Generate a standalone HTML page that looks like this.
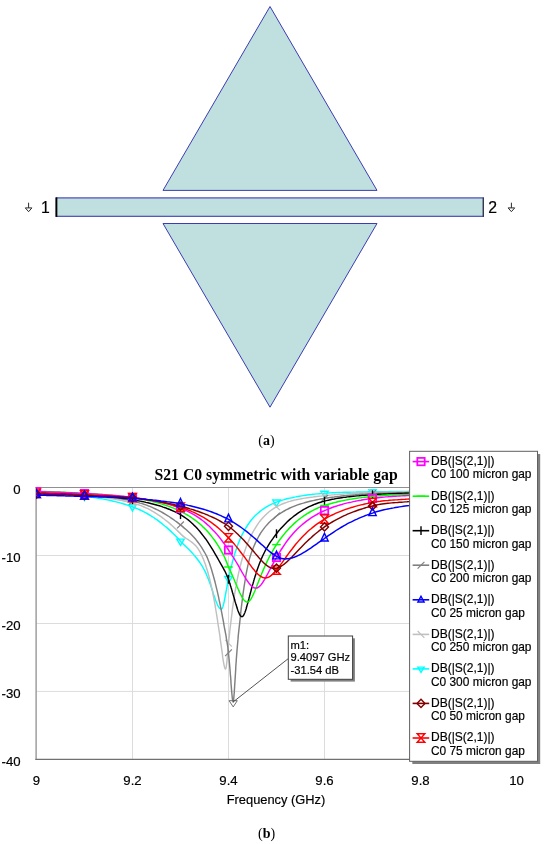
<!DOCTYPE html>
<html><head><meta charset="utf-8"><title>Figure</title>
<style>
html,body{margin:0;padding:0;background:#fff;}
body{width:550px;height:844px;position:relative;overflow:hidden;}
svg text{fill:#000;}
svg .a{font-family:"Liberation Sans",sans-serif;stroke:#000;stroke-width:0.18px;}
svg .s{font-family:"Liberation Serif",serif;}
</style></head><body>
<svg width="550" height="844" viewBox="0 0 550 844" style="position:absolute;left:0;top:0">
<polygon points="270,6.5 377,190.4 163,190.4" fill="#bfe0de" stroke="#3c3cb4" stroke-width="1"/>
<polygon points="270,407.2 377,223.5 163,223.5" fill="#bfe0de" stroke="#3c3cb4" stroke-width="1"/>
<rect x="56.4" y="197.9" width="426.9" height="18.4" fill="#bfe0de" stroke="#3c3cb4" stroke-width="1.1"/>
<path d="M56.4 197.4V216.9" stroke="#000" stroke-width="1.9"/>
<path d="M483.3 197.4V216.9" stroke="#333" stroke-width="1.1"/>
<path d="M28.6 202.7V207.9M25.3 207.9H31.9L28.6 211.7Z" stroke="#2a2a2a" stroke-width="1" fill="none" stroke-linejoin="miter"/>
<path d="M511.4 202.7V207.9M508.1 207.9H514.7L511.4 211.7Z" stroke="#2a2a2a" stroke-width="1" fill="none" stroke-linejoin="miter"/>
<text x="41.0" y="212.5" class="a" font-size="15.8">1</text>
<text x="488.3" y="212.5" class="a" font-size="15.8">2</text>
<text x="266.5" y="444.6" text-anchor="middle" class="s" font-size="14">(<tspan font-weight="bold">a</tspan>)</text>
<text x="266.6" y="837.5" text-anchor="middle" class="s" font-size="14">(<tspan font-weight="bold">b</tspan>)</text>
<path d="M132.5 487.5V759.4" stroke="#dcdcdc" stroke-width="1"/>
<path d="M228.5 487.5V759.4" stroke="#dcdcdc" stroke-width="1"/>
<path d="M324.5 487.5V759.4" stroke="#dcdcdc" stroke-width="1"/>
<path d="M420.5 487.5V759.4" stroke="#dcdcdc" stroke-width="1"/>
<path d="M516.5 487.5V759.4" stroke="#dcdcdc" stroke-width="1"/>
<path d="M36.5 555.5H516.5" stroke="#dcdcdc" stroke-width="1"/>
<path d="M36.5 623.5H516.5" stroke="#dcdcdc" stroke-width="1"/>
<path d="M36.5 691.4H516.5" stroke="#dcdcdc" stroke-width="1"/>
<path d="M36.1 486.9V760.0M516.4 486.9V760.0" stroke="#8c8c8c" stroke-width="1.25"/>
<path d="M35.4 487.5H517.1" stroke="#909090" stroke-width="1.1"/>
<path d="M35.4 759.4H517.1" stroke="#707070" stroke-width="1.2"/>
<text x="276.1" y="479.7" text-anchor="middle" class="s" font-weight="bold" font-size="15.72">S21 C0 symmetric with variable gap</text>
<text x="36.5" y="784.8" text-anchor="middle" class="a" font-size="13.2">9</text>
<text x="132.5" y="784.8" text-anchor="middle" class="a" font-size="13.2">9.2</text>
<text x="228.5" y="784.8" text-anchor="middle" class="a" font-size="13.2">9.4</text>
<text x="324.5" y="784.8" text-anchor="middle" class="a" font-size="13.2">9.6</text>
<text x="420.5" y="784.8" text-anchor="middle" class="a" font-size="13.2">9.8</text>
<text x="516.5" y="784.8" text-anchor="middle" class="a" font-size="13.2">10</text>
<text x="20.6" y="493.9" text-anchor="end" class="a" font-size="13.2">0</text>
<text x="20.6" y="561.9" text-anchor="end" class="a" font-size="13.2">-10</text>
<text x="20.6" y="629.9" text-anchor="end" class="a" font-size="13.2">-20</text>
<text x="20.6" y="697.8" text-anchor="end" class="a" font-size="13.2">-30</text>
<text x="20.6" y="765.8" text-anchor="end" class="a" font-size="13.2">-40</text>
<text x="276" y="804.4" text-anchor="middle" class="a" font-size="12.85">Frequency (GHz)</text>
<clipPath id="pc"><rect x="36.0" y="487.0" width="481.0" height="272.9"/></clipPath>
<g clip-path="url(#pc)">
<polyline points="36.5,493.3 38.4,493.3 40.3,493.4 42.3,493.5 44.2,493.5 46.1,493.6 48.0,493.7 49.9,493.8 51.9,493.9 53.8,494.0 55.7,494.1 57.6,494.2 59.5,494.3 61.5,494.4 63.4,494.5 65.3,494.6 67.2,494.8 69.1,494.9 71.1,495.1 73.0,495.2 74.9,495.4 76.8,495.6 78.7,495.7 80.7,495.9 82.6,496.1 84.5,496.3 86.4,496.6 88.3,496.8 90.3,497.0 92.2,497.3 94.1,497.6 96.0,497.8 97.9,498.2 99.9,498.5 101.8,498.8 103.7,499.1 105.6,499.5 107.5,499.9 109.5,500.3 111.4,500.7 113.3,501.2 115.2,501.6 117.1,502.1 119.1,502.6 121.0,503.1 122.9,503.7 124.8,504.3 126.7,504.9 128.7,505.5 130.6,506.1 132.5,506.8 134.4,507.5 136.3,508.3 138.3,509.1 140.2,510.0 142.1,510.9 144.0,511.9 145.9,512.9 147.9,514.0 149.8,515.1 151.7,516.3 153.6,517.5 155.5,518.9 157.5,520.2 159.4,521.6 161.3,523.1 163.2,524.7 165.1,526.3 167.1,527.9 169.0,529.6 170.9,531.4 172.8,533.2 174.7,535.1 176.7,537.1 178.6,539.1 180.5,541.2 182.4,543.2 184.3,545.1 186.3,547.0 188.2,548.8 190.1,550.7 192.0,552.7 193.9,554.9 195.9,557.3 197.8,559.7 199.7,562.3 201.6,565.1 203.5,568.5 205.5,572.3 206.9,575.6 207.1,576.0 207.3,576.5 207.4,576.7 207.5,577.0 207.7,577.4 207.9,577.9 208.1,578.4 208.2,578.9 208.4,579.3 208.6,579.8 208.8,580.3 209.0,580.8 209.2,581.3 209.3,581.6 209.4,581.8 209.6,582.4 209.8,582.9 210.0,583.4 210.2,583.9 210.4,584.4 210.5,585.0 210.7,585.5 210.9,586.1 211.1,586.7 211.2,587.0 211.3,587.3 211.5,587.9 211.7,588.4 211.9,589.0 212.1,589.6 212.3,590.2 212.5,590.8 212.7,591.4 212.9,592.0 213.0,592.5 213.1,592.8 213.2,593.1 213.4,593.7 213.6,594.3 213.8,594.9 214.0,595.4 214.2,596.0 214.4,596.6 214.6,597.1 214.8,597.7 215.0,598.3 215.1,598.5 215.2,598.8 215.3,599.3 215.5,599.9 215.7,600.4 215.9,600.9 216.1,601.4 216.3,601.9 216.5,602.4 216.7,602.9 216.9,603.3 217.0,603.6 217.1,603.8 217.3,604.2 217.5,604.7 217.7,605.1 217.8,605.5 218.0,605.8 218.2,606.2 218.4,606.5 218.6,606.9 218.8,607.2 218.9,607.3 219.0,607.5 219.2,607.7 219.4,608.0 219.6,608.2 219.8,608.4 220.0,608.6 220.1,608.7 220.3,608.9 220.5,609.0 220.7,609.1 220.8,609.1 220.9,609.1 221.1,609.2 221.3,609.2 221.5,609.1 221.7,609.0 221.9,608.8 222.1,608.6 222.3,608.2 222.5,607.8 222.6,607.3 222.7,607.0 222.8,606.8 223.0,606.2 223.2,605.5 223.4,604.8 223.6,604.0 223.8,603.2 224.0,602.3 224.2,601.5 224.4,600.5 224.6,599.6 224.7,599.1 224.8,598.6 224.9,597.7 225.1,596.6 225.3,595.6 225.5,594.6 225.7,593.6 225.9,592.5 226.1,591.5 226.3,590.4 226.5,589.4 226.6,588.8 226.7,588.3 226.9,587.3 227.1,586.2 227.3,585.2 227.4,584.1 227.6,583.1 227.8,582.1 228.0,581.1 228.2,580.1 228.4,579.1 228.5,578.6 228.6,578.1 228.8,577.2 229.0,576.3 229.2,575.4 229.4,574.5 229.6,573.7 229.7,572.8 229.9,572.0 230.1,571.1 230.3,570.3 230.4,569.9 230.5,569.5 230.7,568.7 230.9,567.9 231.1,567.1 231.3,566.4 231.5,565.6 231.7,564.9 231.9,564.1 232.1,563.4 232.2,562.7 232.3,562.3 232.4,562.0 232.6,561.3 232.8,560.6 233.0,559.9 233.2,559.2 233.4,558.5 233.6,557.9 233.8,557.2 234.0,556.5 234.2,555.9 234.3,555.5 234.4,555.2 234.5,554.6 234.7,553.9 234.9,553.3 235.1,552.7 235.3,552.1 235.5,551.5 236.2,549.5 238.1,544.1 240.0,539.4 241.9,535.2 243.9,531.4 245.8,528.0 247.7,525.0 249.6,522.3 251.5,519.8 253.5,517.6 255.4,515.6 257.3,513.7 259.2,512.1 261.1,510.5 263.1,509.1 265.0,507.9 266.9,506.7 268.8,505.6 270.7,504.6 272.7,503.7 274.6,502.9 276.5,502.1 278.4,501.4 280.3,500.8 282.3,500.1 284.2,499.6 286.1,499.0 288.0,498.5 289.9,498.1 291.9,497.7 293.8,497.2 295.7,496.9 297.6,496.5 299.5,496.2 301.5,495.9 303.4,495.6 305.3,495.3 307.2,495.0 309.1,494.8 311.1,494.6 313.0,494.3 314.9,494.1 316.8,493.9 318.7,493.8 320.7,493.6 322.6,493.4 324.5,493.3 326.4,493.1 328.3,493.0 330.3,492.9 332.2,492.8 334.1,492.7 336.0,492.6 337.9,492.5 339.9,492.5 341.8,492.4 343.7,492.3 345.6,492.3 347.5,492.2 349.5,492.2 351.4,492.1 353.3,492.1 355.2,492.1 357.1,492.0 359.1,492.0 361.0,492.0 362.9,491.9 364.8,491.9 366.7,491.9 368.7,491.8 370.6,491.8 372.5,491.8 374.4,491.7 376.3,491.7 378.3,491.7 380.2,491.7 382.1,491.6 384.0,491.6 385.9,491.6 387.9,491.6 389.8,491.5 391.7,491.5 393.6,491.5 395.5,491.5 397.5,491.4 399.4,491.4 401.3,491.4 403.2,491.4 405.1,491.4 407.1,491.4 409.0,491.3 410.9,491.3 412.8,491.3 414.7,491.3 416.7,491.3 418.6,491.3 420.5,491.2 422.4,491.2 424.3,491.2 426.3,491.2 428.2,491.2 430.1,491.2 432.0,491.1 433.9,491.1 435.9,491.1 437.8,491.1 439.7,491.1 441.6,491.1 443.5,491.1 445.5,491.1 447.4,491.0 449.3,491.0 451.2,491.0 453.1,491.0 455.1,491.0 457.0,491.0 458.9,491.0 460.8,491.0 462.7,490.9 464.7,490.9 466.6,490.9 468.5,490.9 470.4,490.9 472.3,490.9 474.3,490.9 476.2,490.8 478.1,490.8 480.0,490.8 481.9,490.8 483.9,490.8 485.8,490.8 487.7,490.8 489.6,490.8 491.5,490.7 493.5,490.7 495.4,490.7 497.3,490.7 499.2,490.7 501.1,490.7 503.1,490.7 505.0,490.6 506.9,490.6 508.8,490.6 510.7,490.6 512.7,490.6 514.6,490.6 516.5,490.6" fill="none" stroke="#00ffff" stroke-width="1.45" stroke-linejoin="round"/>
<path d="M36.5 497.5L40.2 491.2H32.8Z" stroke="#00ffff" stroke-width="1.4" fill="none"/>
<path d="M84.5 500.5L88.2 494.2H80.8Z" stroke="#00ffff" stroke-width="1.4" fill="none"/>
<path d="M132.5 511.0L136.2 504.7H128.8Z" stroke="#00ffff" stroke-width="1.4" fill="none"/>
<path d="M180.5 545.4L184.2 539.1H176.8Z" stroke="#00ffff" stroke-width="1.4" fill="none"/>
<path d="M228.5 582.8L232.2 576.5H224.8Z" stroke="#00ffff" stroke-width="1.4" fill="none"/>
<path d="M276.5 506.3L280.2 500.0H272.8Z" stroke="#00ffff" stroke-width="1.4" fill="none"/>
<path d="M324.5 497.5L328.2 491.2H320.8Z" stroke="#00ffff" stroke-width="1.4" fill="none"/>
<path d="M372.5 496.0L376.2 489.7H368.8Z" stroke="#00ffff" stroke-width="1.4" fill="none"/>
<path d="M420.5 495.4L424.2 489.1H416.8Z" stroke="#00ffff" stroke-width="1.4" fill="none"/>
<path d="M468.5 495.1L472.2 488.8H464.8Z" stroke="#00ffff" stroke-width="1.4" fill="none"/>
<path d="M516.5 494.8L520.2 488.5H512.8Z" stroke="#00ffff" stroke-width="1.4" fill="none"/>
<polyline points="36.5,492.9 38.4,493.0 40.3,493.0 42.3,493.1 44.2,493.1 46.1,493.2 48.0,493.3 49.9,493.3 51.9,493.4 53.8,493.5 55.7,493.5 57.6,493.6 59.5,493.7 61.5,493.8 63.4,493.9 65.3,494.0 67.2,494.1 69.1,494.2 71.1,494.3 73.0,494.4 74.9,494.5 76.8,494.7 78.7,494.8 80.7,495.0 82.6,495.1 84.5,495.3 86.4,495.5 88.3,495.7 90.3,495.9 92.2,496.1 94.1,496.3 96.0,496.5 97.9,496.8 99.9,497.0 101.8,497.3 103.7,497.5 105.6,497.8 107.5,498.1 109.5,498.4 111.4,498.7 113.3,499.0 115.2,499.3 117.1,499.7 119.1,500.0 121.0,500.4 122.9,500.8 124.8,501.2 126.7,501.6 128.7,502.0 130.6,502.5 132.5,503.0 134.4,503.5 136.3,504.1 138.3,504.7 140.2,505.4 142.1,506.2 144.0,507.0 145.9,507.8 147.9,508.7 149.8,509.7 151.7,510.8 153.6,511.9 155.5,513.0 157.5,514.3 159.4,515.6 161.3,516.9 163.2,518.3 165.1,519.8 167.1,521.3 169.0,522.9 170.9,524.6 172.8,526.3 174.7,528.1 176.7,529.9 178.6,531.8 180.5,533.7 182.4,535.5 184.3,537.1 186.3,538.5 188.2,539.7 190.1,541.0 192.0,542.4 193.9,544.0 195.9,545.9 197.8,548.3 199.7,551.3 201.6,555.0 203.5,559.4 205.5,564.7 207.4,570.7 209.3,577.7 211.1,585.2 211.2,585.7 211.3,586.1 211.5,587.0 211.7,587.8 211.9,588.7 212.1,589.6 212.3,590.5 212.5,591.4 212.7,592.4 212.9,593.3 213.0,594.3 213.1,594.8 213.2,595.2 213.4,596.2 213.6,597.2 213.8,598.2 214.0,599.3 214.2,600.3 214.4,601.3 214.6,602.4 214.8,603.5 215.0,604.6 215.1,605.1 215.2,605.7 215.3,606.8 215.5,608.0 215.7,609.1 215.9,610.3 216.1,611.5 216.3,612.6 216.5,613.9 216.7,615.1 216.9,616.3 217.0,617.0 217.1,617.6 217.3,618.9 217.5,620.2 217.7,621.5 217.8,622.8 218.0,624.0 218.2,625.2 218.4,626.4 218.6,627.6 218.8,628.9 218.9,629.5 219.0,630.1 219.2,631.4 219.4,632.7 219.6,634.0 219.8,635.3 220.0,636.7 220.1,638.0 220.3,639.4 220.5,640.8 220.7,642.2 220.8,642.9 220.9,643.6 221.1,645.0 221.3,646.4 221.5,647.9 221.7,649.3 221.9,650.7 222.1,652.2 222.3,653.6 222.5,655.0 222.6,656.4 222.7,657.0 222.8,657.7 223.0,659.0 223.2,660.3 223.4,661.5 223.6,662.7 223.8,663.8 224.0,664.8 224.2,665.7 224.4,666.6 224.6,667.3 224.7,667.6 224.8,667.9 224.9,668.4 225.1,668.7 225.3,668.9 225.5,669.0 225.7,668.8 225.9,668.3 226.1,667.5 226.3,666.4 226.5,665.0 226.6,664.2 226.7,663.4 226.9,661.6 227.1,659.6 227.3,657.6 227.4,655.4 227.6,653.2 227.8,651.0 228.0,648.8 228.2,646.5 228.4,644.3 228.5,643.2 228.6,642.2 228.8,640.3 229.0,638.5 229.2,636.7 229.4,635.0 229.6,633.3 229.7,631.6 229.9,630.0 230.1,628.4 230.3,626.8 230.4,626.0 230.5,625.1 230.7,623.5 230.9,621.8 231.1,620.1 231.3,618.5 231.5,616.9 231.7,615.3 231.9,613.8 232.1,612.3 232.2,610.8 232.3,610.1 232.4,609.3 232.6,607.9 232.8,606.5 233.0,605.1 233.2,603.8 233.4,602.5 233.6,601.1 233.8,599.9 234.0,598.6 234.2,597.3 234.3,596.7 234.4,596.1 234.5,594.9 234.7,593.7 234.9,592.5 235.1,591.4 235.3,590.3 235.5,589.1 235.7,588.0 235.9,586.9 236.1,585.9 236.2,585.3 236.3,584.8 236.5,583.8 236.7,582.8 236.9,581.7 237.0,580.8 237.2,579.8 237.4,578.8 237.6,577.8 237.8,576.9 238.0,576.0 238.1,575.5 238.2,575.1 238.4,574.2 238.6,573.3 238.8,572.4 239.0,571.5 239.2,570.7 239.3,569.8 239.5,569.0 239.7,568.2 240.0,567.0 241.9,559.7 243.9,553.4 245.8,547.9 247.7,543.0 249.6,538.6 251.5,534.6 253.5,531.0 255.4,527.8 257.3,524.8 259.2,522.1 261.1,519.7 263.1,517.5 265.0,515.5 266.9,513.7 268.8,512.0 270.7,510.5 272.7,509.2 274.6,507.9 276.5,506.8 278.4,505.8 280.3,504.9 282.3,504.0 284.2,503.3 286.1,502.6 288.0,501.9 289.9,501.4 291.9,500.8 293.8,500.3 295.7,499.9 297.6,499.5 299.5,499.1 301.5,498.7 303.4,498.4 305.3,498.1 307.2,497.8 309.1,497.5 311.1,497.2 313.0,497.0 314.9,496.7 316.8,496.5 318.7,496.3 320.7,496.1 322.6,495.9 324.5,495.7 326.4,495.5 328.3,495.3 330.3,495.1 332.2,494.9 334.1,494.8 336.0,494.6 337.9,494.4 339.9,494.3 341.8,494.2 343.7,494.0 345.6,493.9 347.5,493.8 349.5,493.7 351.4,493.6 353.3,493.4 355.2,493.3 357.1,493.2 359.1,493.2 361.0,493.1 362.9,493.0 364.8,492.9 366.7,492.8 368.7,492.7 370.6,492.7 372.5,492.6 374.4,492.5 376.3,492.5 378.3,492.4 380.2,492.4 382.1,492.3 384.0,492.2 385.9,492.2 387.9,492.1 389.8,492.1 391.7,492.1 393.6,492.0 395.5,492.0 397.5,491.9 399.4,491.9 401.3,491.9 403.2,491.8 405.1,491.8 407.1,491.8 409.0,491.7 410.9,491.7 412.8,491.7 414.7,491.7 416.7,491.6 418.6,491.6 420.5,491.6 422.4,491.6 424.3,491.5 426.3,491.5 428.2,491.5 430.1,491.5 432.0,491.5 433.9,491.4 435.9,491.4 437.8,491.4 439.7,491.4 441.6,491.4 443.5,491.4 445.5,491.4 447.4,491.4 449.3,491.4 451.2,491.3 453.1,491.3 455.1,491.3 457.0,491.3 458.9,491.3 460.8,491.3 462.7,491.3 464.7,491.3 466.6,491.3 468.5,491.2 470.4,491.2 472.3,491.2 474.3,491.2 476.2,491.2 478.1,491.2 480.0,491.2 481.9,491.1 483.9,491.1 485.8,491.1 487.7,491.1 489.6,491.1 491.5,491.1 493.5,491.1 495.4,491.1 497.3,491.0 499.2,491.0 501.1,491.0 503.1,491.0 505.0,491.0 506.9,491.0 508.8,491.0 510.7,490.9 512.7,490.9 514.6,490.9 516.5,490.9" fill="none" stroke="#c0c0c0" stroke-width="1.45" stroke-linejoin="round"/>
<path d="M33.1 489.5L39.9 496.3" stroke="#c0c0c0" stroke-width="1.2" fill="none"/>
<path d="M81.1 491.9L87.9 498.7" stroke="#c0c0c0" stroke-width="1.2" fill="none"/>
<path d="M129.1 499.6L135.9 506.4" stroke="#c0c0c0" stroke-width="1.2" fill="none"/>
<path d="M177.1 530.3L183.9 537.1" stroke="#c0c0c0" stroke-width="1.2" fill="none"/>
<path d="M225.1 639.8L231.9 646.6" stroke="#c0c0c0" stroke-width="1.2" fill="none"/>
<path d="M273.1 503.4L279.9 510.2" stroke="#c0c0c0" stroke-width="1.2" fill="none"/>
<path d="M321.1 492.3L327.9 499.1" stroke="#c0c0c0" stroke-width="1.2" fill="none"/>
<path d="M369.1 489.2L375.9 496.0" stroke="#c0c0c0" stroke-width="1.2" fill="none"/>
<path d="M417.1 488.2L423.9 495.0" stroke="#c0c0c0" stroke-width="1.2" fill="none"/>
<path d="M465.1 487.8L471.9 494.6" stroke="#c0c0c0" stroke-width="1.2" fill="none"/>
<path d="M513.1 487.5L519.9 494.3" stroke="#c0c0c0" stroke-width="1.2" fill="none"/>
<polyline points="36.5,492.9 38.4,493.0 40.3,493.0 42.3,493.1 44.2,493.1 46.1,493.2 48.0,493.2 49.9,493.3 51.9,493.3 53.8,493.4 55.7,493.5 57.6,493.5 59.5,493.6 61.5,493.7 63.4,493.8 65.3,493.9 67.2,493.9 69.1,494.0 71.1,494.1 73.0,494.2 74.9,494.3 76.8,494.5 78.7,494.6 80.7,494.7 82.6,494.8 84.5,495.0 86.4,495.1 88.3,495.3 90.3,495.4 92.2,495.6 94.1,495.8 96.0,495.9 97.9,496.1 99.9,496.3 101.8,496.5 103.7,496.7 105.6,496.9 107.5,497.1 109.5,497.3 111.4,497.6 113.3,497.8 115.2,498.1 117.1,498.4 119.1,498.6 121.0,498.9 122.9,499.3 124.8,499.6 126.7,499.9 128.7,500.3 130.6,500.7 132.5,501.1 134.4,501.5 136.3,502.0 138.3,502.5 140.2,503.1 142.1,503.6 144.0,504.3 145.9,504.9 147.9,505.7 149.8,506.4 151.7,507.2 153.6,508.1 155.5,509.0 157.5,509.9 159.4,510.9 161.3,511.9 163.2,513.0 165.1,514.1 167.1,515.3 169.0,516.5 170.9,517.8 172.8,519.1 174.7,520.5 176.7,521.9 178.6,523.4 180.5,524.9 182.4,526.4 184.3,528.1 186.3,529.7 188.2,531.5 190.1,533.3 192.0,535.3 193.9,537.3 195.9,539.6 197.8,542.0 199.7,544.6 201.6,547.4 203.5,550.6 205.5,554.0 207.4,557.9 209.3,562.8 211.2,568.5 213.1,575.0 215.1,582.3 217.0,590.2 218.8,598.1 218.9,598.8 218.9,599.0 219.1,599.9 219.3,600.8 219.5,601.7 219.7,602.7 219.9,603.6 220.1,604.5 220.3,605.4 220.5,606.4 220.7,607.3 220.8,608.1 220.9,608.3 221.1,609.3 221.3,610.2 221.4,611.2 221.6,612.2 221.8,613.2 222.0,614.2 222.2,615.2 222.4,616.3 222.6,617.3 222.7,618.1 222.8,618.3 223.0,619.4 223.2,620.5 223.4,621.5 223.6,622.6 223.7,623.7 223.9,624.8 224.1,625.9 224.3,626.9 224.5,628.0 224.7,628.8 224.7,629.0 224.9,630.0 225.1,631.1 225.3,632.1 225.5,633.1 225.7,634.1 225.9,635.2 226.1,636.3 226.2,637.3 226.4,638.4 226.6,639.3 226.6,639.6 226.8,640.7 227.0,641.9 227.2,643.1 227.4,644.4 227.6,645.7 227.8,647.1 228.0,648.5 228.2,650.0 228.4,651.5 228.5,652.7 228.5,653.2 228.7,655.2 228.9,657.2 229.1,659.4 229.3,661.5 229.5,663.7 229.7,666.0 229.9,668.4 230.1,670.7 230.3,673.2 230.4,675.0 230.5,675.6 230.7,678.1 230.9,680.6 231.0,683.2 231.2,685.7 231.4,688.1 231.6,690.5 231.8,692.8 232.0,695.0 232.2,696.9 232.3,698.2 232.4,698.6 232.6,700.0 232.8,701.0 233.0,701.7 233.2,701.9 233.3,701.5 233.5,700.5 233.7,698.9 233.9,696.8 234.1,694.3 234.3,692.2 234.3,691.5 234.5,688.5 234.7,685.3 234.9,682.2 235.1,679.0 235.3,675.8 235.5,672.7 235.7,669.6 235.8,666.7 236.0,663.8 236.2,661.7 236.2,661.0 236.4,658.2 236.6,655.6 236.8,653.1 237.0,650.6 237.2,648.2 237.4,645.9 237.6,643.7 237.8,641.5 238.0,639.4 238.1,637.9 238.1,637.4 238.3,635.4 238.5,633.5 238.7,631.6 238.9,629.8 239.1,628.0 239.3,626.3 239.5,624.7 239.7,623.0 239.9,621.1 240.0,619.7 240.1,619.2 240.3,617.4 240.5,615.6 240.6,613.8 240.8,612.1 241.0,610.4 241.2,608.7 241.4,607.0 241.6,605.4 241.8,603.8 241.9,602.6 242.0,602.3 242.2,600.7 242.4,599.2 242.6,597.7 242.8,596.2 242.9,594.8 243.1,593.4 243.3,592.0 243.5,590.6 243.7,589.3 243.9,588.3 243.9,587.9 244.1,586.6 244.3,585.4 244.5,584.1 244.7,582.9 244.9,581.6 245.1,580.4 245.3,579.3 245.4,578.1 245.6,577.0 245.8,576.2 245.8,575.9 246.0,574.8 246.2,573.7 246.4,572.7 246.6,571.7 246.8,570.7 247.0,569.7 247.2,568.7 247.4,567.8 247.7,566.2 249.6,558.3 251.5,552.4 253.5,547.3 255.4,542.9 257.3,539.0 259.2,535.5 261.1,532.4 263.1,529.6 265.0,527.1 266.9,524.9 268.8,522.8 270.7,520.9 272.7,519.2 274.6,517.6 276.5,516.0 278.4,514.6 280.3,513.3 282.3,512.1 284.2,511.0 286.1,509.9 288.0,509.0 289.9,508.0 291.9,507.2 293.8,506.4 295.7,505.6 297.6,504.9 299.5,504.3 301.5,503.6 303.4,503.1 305.3,502.5 307.2,502.0 309.1,501.5 311.1,501.0 313.0,500.6 314.9,500.2 316.8,499.8 318.7,499.4 320.7,499.0 322.6,498.7 324.5,498.4 326.4,498.1 328.3,497.8 330.3,497.5 332.2,497.2 334.1,497.0 336.0,496.7 337.9,496.5 339.9,496.3 341.8,496.0 343.7,495.8 345.6,495.6 347.5,495.4 349.5,495.3 351.4,495.1 353.3,494.9 355.2,494.8 357.1,494.6 359.1,494.5 361.0,494.3 362.9,494.2 364.8,494.1 366.7,493.9 368.7,493.8 370.6,493.7 372.5,493.6 374.4,493.5 376.3,493.4 378.3,493.3 380.2,493.3 382.1,493.2 384.0,493.1 385.9,493.1 387.9,493.0 389.8,492.9 391.7,492.9 393.6,492.8 395.5,492.8 397.5,492.7 399.4,492.7 401.3,492.6 403.2,492.6 405.1,492.6 407.1,492.5 409.0,492.5 410.9,492.4 412.8,492.4 414.7,492.4 416.7,492.3 418.6,492.3 420.5,492.3 422.4,492.2 424.3,492.2 426.3,492.2 428.2,492.1 430.1,492.1 432.0,492.1 433.9,492.0 435.9,492.0 437.8,492.0 439.7,491.9 441.6,491.9 443.5,491.9 445.5,491.8 447.4,491.8 449.3,491.8 451.2,491.8 453.1,491.7 455.1,491.7 457.0,491.7 458.9,491.7 460.8,491.7 462.7,491.6 464.7,491.6 466.6,491.6 468.5,491.6 470.4,491.6 472.3,491.5 474.3,491.5 476.2,491.5 478.1,491.5 480.0,491.5 481.9,491.5 483.9,491.4 485.8,491.4 487.7,491.4 489.6,491.4 491.5,491.4 493.5,491.4 495.4,491.4 497.3,491.3 499.2,491.3 501.1,491.3 503.1,491.3 505.0,491.3 506.9,491.3 508.8,491.3 510.7,491.3 512.7,491.3 514.6,491.2 516.5,491.2" fill="none" stroke="#808080" stroke-width="1.45" stroke-linejoin="round"/>
<path d="M33.1 496.3L39.9 489.5" stroke="#808080" stroke-width="1.2" fill="none"/>
<path d="M81.1 498.4L87.9 491.6" stroke="#808080" stroke-width="1.2" fill="none"/>
<path d="M129.1 504.5L135.9 497.7" stroke="#808080" stroke-width="1.2" fill="none"/>
<path d="M177.1 528.3L183.9 521.5" stroke="#808080" stroke-width="1.2" fill="none"/>
<path d="M225.1 656.1L231.9 649.3" stroke="#808080" stroke-width="1.2" fill="none"/>
<path d="M273.1 519.4L279.9 512.6" stroke="#808080" stroke-width="1.2" fill="none"/>
<path d="M321.1 501.8L327.9 495.0" stroke="#808080" stroke-width="1.2" fill="none"/>
<path d="M369.1 497.0L375.9 490.2" stroke="#808080" stroke-width="1.2" fill="none"/>
<path d="M417.1 495.7L423.9 488.9" stroke="#808080" stroke-width="1.2" fill="none"/>
<path d="M465.1 495.0L471.9 488.2" stroke="#808080" stroke-width="1.2" fill="none"/>
<path d="M513.1 494.6L519.9 487.8" stroke="#808080" stroke-width="1.2" fill="none"/>
<polyline points="36.5,492.6 38.4,492.6 40.3,492.7 42.3,492.7 44.2,492.7 46.1,492.8 48.0,492.8 49.9,492.9 51.9,492.9 53.8,493.0 55.7,493.0 57.6,493.1 59.5,493.1 61.5,493.2 63.4,493.2 65.3,493.3 67.2,493.4 69.1,493.5 71.1,493.5 73.0,493.6 74.9,493.7 76.8,493.8 78.7,493.9 80.7,494.0 82.6,494.2 84.5,494.3 86.4,494.4 88.3,494.6 90.3,494.7 92.2,494.9 94.1,495.0 96.0,495.2 97.9,495.4 99.9,495.5 101.8,495.7 103.7,495.9 105.6,496.1 107.5,496.3 109.5,496.5 111.4,496.7 113.3,497.0 115.2,497.2 117.1,497.4 119.1,497.7 121.0,498.0 122.9,498.2 124.8,498.5 126.7,498.8 128.7,499.1 130.6,499.4 132.5,499.7 134.4,500.1 136.3,500.4 138.3,500.8 140.2,501.1 142.1,501.5 144.0,501.9 145.9,502.4 147.9,502.8 149.8,503.2 151.7,503.7 153.6,504.2 155.5,504.7 157.5,505.3 159.4,505.8 161.3,506.4 163.2,507.1 165.1,507.7 167.1,508.5 169.0,509.2 170.9,510.0 172.8,510.8 174.7,511.7 176.7,512.6 178.6,513.6 180.5,514.7 182.4,515.8 184.3,517.1 186.3,518.5 188.2,519.9 190.1,521.5 192.0,523.2 193.9,525.1 195.9,527.0 197.8,529.1 199.7,531.3 201.6,533.7 203.5,536.1 205.5,538.7 207.4,541.4 209.3,544.3 211.2,547.3 213.1,550.4 215.1,553.8 217.0,557.2 218.9,560.5 220.8,563.8 222.7,567.2 224.7,570.8 226.6,574.8 227.5,576.9 227.7,577.4 227.9,577.9 228.1,578.3 228.3,578.8 228.5,579.3 228.7,579.9 228.9,580.4 229.1,581.0 229.3,581.6 229.5,582.3 229.7,582.9 229.8,583.5 230.0,584.1 230.2,584.7 230.4,585.3 230.6,586.0 230.8,586.6 231.0,587.2 231.2,587.9 231.4,588.5 231.6,589.2 231.8,589.8 232.0,590.5 232.1,591.1 232.3,591.8 232.5,592.5 232.7,593.1 232.9,593.8 233.1,594.5 233.3,595.1 233.5,595.8 233.7,596.5 233.9,597.1 234.1,597.8 234.3,598.5 234.5,599.2 234.6,599.8 234.8,600.5 235.0,601.2 235.2,601.8 235.4,602.5 235.6,603.1 235.8,603.8 236.0,604.4 236.2,605.1 236.4,605.7 236.6,606.3 236.8,606.9 236.9,607.5 237.1,608.1 237.3,608.7 237.5,609.3 237.7,609.8 237.9,610.4 238.1,610.9 238.3,611.4 238.5,611.9 238.7,612.4 238.9,612.9 239.1,613.3 239.3,613.7 239.4,614.1 239.6,614.5 239.8,614.8 240.0,615.1 240.2,615.4 240.4,615.7 240.6,615.9 240.8,616.1 241.0,616.3 241.2,616.4 241.4,616.5 241.6,616.6 241.7,616.6 241.9,616.7 242.1,616.6 242.3,616.6 242.5,616.5 242.7,616.3 242.9,616.2 243.1,616.0 243.3,615.7 243.5,615.5 243.7,615.2 243.9,614.8 244.1,614.4 244.2,614.0 244.4,613.6 244.6,613.1 244.8,612.7 245.0,612.2 245.2,611.6 245.4,611.1 245.6,610.5 245.8,609.9 246.0,609.3 246.2,608.7 246.4,608.0 246.5,607.4 246.7,606.7 246.9,606.0 247.1,605.3 247.3,604.6 247.5,603.9 247.7,603.2 247.9,602.5 248.1,601.8 248.3,601.1 248.5,600.3 248.7,599.6 248.9,598.9 249.0,598.1 249.2,597.4 249.4,596.7 249.6,595.9 249.8,595.2 250.0,594.5 250.2,593.7 250.4,593.0 250.6,592.3 250.8,591.6 251.0,590.8 251.2,590.1 251.3,589.4 251.5,588.7 251.7,588.0 251.9,587.3 252.1,586.6 252.3,585.9 252.5,585.2 252.7,584.5 252.9,583.8 253.1,583.2 253.3,582.5 253.5,581.8 253.7,581.2 253.8,580.5 254.0,579.9 254.2,579.2 254.4,578.6 254.6,578.0 254.8,577.3 255.0,576.7 255.2,576.1 255.4,575.5 255.6,574.9 255.8,574.3 256.0,573.7 256.1,573.1 257.3,569.6 259.2,564.3 261.1,559.4 263.1,555.0 265.0,551.2 266.9,547.8 268.8,544.6 270.7,541.6 272.7,538.9 274.6,536.2 276.5,533.7 278.4,531.3 280.3,529.1 282.3,526.9 284.2,524.9 286.1,523.0 288.0,521.1 289.9,519.4 291.9,517.8 293.8,516.2 295.7,514.8 297.6,513.4 299.5,512.1 301.5,510.9 303.4,509.7 305.3,508.7 307.2,507.6 309.1,506.7 311.1,505.8 313.0,505.0 314.9,504.2 316.8,503.5 318.7,502.8 320.7,502.2 322.6,501.6 324.5,501.1 326.4,500.6 328.3,500.2 330.3,499.7 332.2,499.3 334.1,499.0 336.0,498.6 337.9,498.3 339.9,498.0 341.8,497.7 343.7,497.4 345.6,497.2 347.5,496.9 349.5,496.7 351.4,496.5 353.3,496.3 355.2,496.1 357.1,495.9 359.1,495.8 361.0,495.6 362.9,495.4 364.8,495.3 366.7,495.1 368.7,495.0 370.6,494.8 372.5,494.7 374.4,494.6 376.3,494.5 378.3,494.3 380.2,494.2 382.1,494.1 384.0,494.0 385.9,494.0 387.9,493.9 389.8,493.8 391.7,493.7 393.6,493.7 395.5,493.6 397.5,493.5 399.4,493.5 401.3,493.4 403.2,493.4 405.1,493.3 407.1,493.3 409.0,493.2 410.9,493.2 412.8,493.1 414.7,493.1 416.7,493.0 418.6,493.0 420.5,492.9 422.4,492.9 424.3,492.9 426.3,492.8 428.2,492.8 430.1,492.8 432.0,492.7 433.9,492.7 435.9,492.7 437.8,492.6 439.7,492.6 441.6,492.6 443.5,492.6 445.5,492.5 447.4,492.5 449.3,492.5 451.2,492.5 453.1,492.5 455.1,492.4 457.0,492.4 458.9,492.4 460.8,492.4 462.7,492.3 464.7,492.3 466.6,492.3 468.5,492.3 470.4,492.2 472.3,492.2 474.3,492.2 476.2,492.1 478.1,492.1 480.0,492.1 481.9,492.1 483.9,492.0 485.8,492.0 487.7,492.0 489.6,492.0 491.5,491.9 493.5,491.9 495.4,491.9 497.3,491.9 499.2,491.8 501.1,491.8 503.1,491.8 505.0,491.7 506.9,491.7 508.8,491.7 510.7,491.7 512.7,491.6 514.6,491.6 516.5,491.6" fill="none" stroke="#000000" stroke-width="1.45" stroke-linejoin="round"/>
<path d="M36.5 488.2V497.0" stroke="#000000" stroke-width="1.4" fill="none"/>
<path d="M84.5 489.9V498.7" stroke="#000000" stroke-width="1.4" fill="none"/>
<path d="M132.5 495.3V504.1" stroke="#000000" stroke-width="1.4" fill="none"/>
<path d="M180.5 510.3V519.1" stroke="#000000" stroke-width="1.4" fill="none"/>
<path d="M228.5 574.9V583.7" stroke="#000000" stroke-width="1.4" fill="none"/>
<path d="M276.5 529.3V538.1" stroke="#000000" stroke-width="1.4" fill="none"/>
<path d="M324.5 496.7V505.5" stroke="#000000" stroke-width="1.4" fill="none"/>
<path d="M372.5 490.3V499.1" stroke="#000000" stroke-width="1.4" fill="none"/>
<path d="M420.5 488.5V497.3" stroke="#000000" stroke-width="1.4" fill="none"/>
<path d="M468.5 487.9V496.7" stroke="#000000" stroke-width="1.4" fill="none"/>
<path d="M516.5 487.2V496.0" stroke="#000000" stroke-width="1.4" fill="none"/>
<polyline points="36.5,491.2 38.4,491.3 40.3,491.4 42.3,491.4 44.2,491.5 46.1,491.5 48.0,491.6 49.9,491.7 51.9,491.8 53.8,491.8 55.7,491.9 57.6,492.0 59.5,492.0 61.5,492.1 63.4,492.2 65.3,492.3 67.2,492.4 69.1,492.5 71.1,492.6 73.0,492.7 74.9,492.8 76.8,492.8 78.7,493.0 80.7,493.1 82.6,493.2 84.5,493.3 86.4,493.4 88.3,493.5 90.3,493.6 92.2,493.8 94.1,493.9 96.0,494.0 97.9,494.1 99.9,494.3 101.8,494.4 103.7,494.6 105.6,494.7 107.5,494.9 109.5,495.1 111.4,495.2 113.3,495.4 115.2,495.6 117.1,495.8 119.1,496.0 121.0,496.2 122.9,496.4 124.8,496.7 126.7,496.9 128.7,497.2 130.6,497.4 132.5,497.7 134.4,498.0 136.3,498.3 138.3,498.6 140.2,499.0 142.1,499.3 144.0,499.7 145.9,500.1 147.9,500.5 149.8,500.9 151.7,501.3 153.6,501.8 155.5,502.3 157.5,502.8 159.4,503.3 161.3,503.9 163.2,504.5 165.1,505.1 167.1,505.7 169.0,506.4 170.9,507.1 172.8,507.9 174.7,508.7 176.7,509.5 178.6,510.4 180.5,511.3 182.4,512.3 184.3,513.3 186.3,514.4 188.2,515.5 190.1,516.7 192.0,518.0 193.9,519.3 195.9,520.7 197.8,522.2 199.7,523.8 201.6,525.5 203.5,527.4 205.5,529.3 207.4,531.3 209.3,533.5 211.2,535.9 213.1,538.4 215.1,541.0 217.0,543.9 218.9,546.9 220.8,550.2 222.7,553.7 224.7,557.5 226.6,562.1 228.5,567.0 230.4,571.1 232.3,575.4 232.8,576.5 233.0,577.0 233.2,577.4 233.4,577.9 233.6,578.3 233.8,578.8 234.0,579.2 234.2,579.7 234.3,579.9 234.4,580.1 234.5,580.6 234.7,581.0 234.9,581.5 235.1,581.9 235.3,582.4 235.5,582.8 235.7,583.3 235.9,583.7 236.1,584.2 236.2,584.4 236.3,584.6 236.5,585.1 236.7,585.6 236.9,586.0 237.0,586.5 237.2,586.9 237.4,587.4 237.6,587.8 237.8,588.2 238.0,588.7 238.1,588.9 238.2,589.1 238.4,589.6 238.6,590.0 238.8,590.4 239.0,590.9 239.2,591.3 239.3,591.7 239.5,592.1 239.7,592.6 239.9,593.0 240.0,593.2 240.1,593.4 240.3,593.8 240.5,594.2 240.7,594.6 240.9,594.9 241.1,595.3 241.3,595.7 241.5,596.0 241.7,596.4 241.8,596.8 241.9,596.9 242.0,597.1 242.2,597.4 242.4,597.7 242.6,598.1 242.8,598.4 243.0,598.7 243.2,598.9 243.4,599.2 243.6,599.5 243.8,599.7 243.9,599.9 244.0,600.0 244.1,600.2 244.3,600.4 244.5,600.6 244.7,600.8 244.9,601.0 245.1,601.2 245.3,601.3 245.5,601.4 245.7,601.6 245.8,601.6 245.9,601.7 246.1,601.8 246.3,601.9 246.5,601.9 246.6,602.0 246.8,602.0 247.0,602.0 247.2,602.0 247.4,602.0 247.6,602.0 247.7,602.0 247.8,602.0 248.0,601.9 248.2,601.8 248.4,601.7 248.6,601.6 248.8,601.5 248.9,601.3 249.1,601.2 249.3,601.0 249.5,600.8 249.6,600.7 249.7,600.6 249.9,600.4 250.1,600.1 250.3,599.9 250.5,599.6 250.7,599.4 250.9,599.1 251.1,598.8 251.3,598.4 251.4,598.1 251.5,598.0 251.6,597.8 251.8,597.4 252.0,597.1 252.2,596.7 252.4,596.3 252.6,595.9 252.8,595.5 253.0,595.1 253.2,594.7 253.4,594.3 253.5,594.1 253.6,593.9 253.7,593.5 253.9,593.0 254.1,592.6 254.3,592.1 254.5,591.7 254.7,591.2 254.9,590.8 255.1,590.3 255.3,589.8 255.4,589.6 255.5,589.3 255.7,588.9 255.9,588.4 256.1,587.9 256.2,587.4 256.4,586.9 256.6,586.5 256.8,586.0 257.0,585.5 257.2,585.0 257.3,584.7 257.4,584.5 257.6,584.0 257.8,583.5 258.0,583.0 258.2,582.5 258.4,582.0 258.5,581.6 258.7,581.1 258.9,580.6 259.1,580.1 259.2,579.8 259.3,579.6 259.5,579.1 259.7,578.6 259.9,578.1 260.1,577.7 260.3,577.2 260.5,576.7 260.7,576.2 260.9,575.7 261.0,575.3 261.1,575.0 261.2,574.8 261.4,574.3 263.1,570.4 265.0,566.0 266.9,561.9 268.8,558.0 270.7,554.3 272.7,550.9 274.6,547.6 276.5,544.6 278.4,541.7 280.3,539.0 282.3,536.5 284.2,534.1 286.1,531.8 288.0,529.7 289.9,527.6 291.9,525.7 293.8,523.9 295.7,522.1 297.6,520.5 299.5,519.0 301.5,517.5 303.4,516.2 305.3,514.9 307.2,513.6 309.1,512.5 311.1,511.4 313.0,510.4 314.9,509.4 316.8,508.5 318.7,507.7 320.7,506.9 322.6,506.2 324.5,505.5 326.4,504.9 328.3,504.3 330.3,503.7 332.2,503.2 334.1,502.6 336.0,502.2 337.9,501.7 339.9,501.3 341.8,500.9 343.7,500.5 345.6,500.1 347.5,499.7 349.5,499.4 351.4,499.1 353.3,498.8 355.2,498.5 357.1,498.2 359.1,497.9 361.0,497.7 362.9,497.4 364.8,497.2 366.7,497.0 368.7,496.7 370.6,496.5 372.5,496.3 374.4,496.1 376.3,496.0 378.3,495.8 380.2,495.7 382.1,495.5 384.0,495.4 385.9,495.3 387.9,495.2 389.8,495.1 391.7,495.0 393.6,494.9 395.5,494.8 397.5,494.7 399.4,494.6 401.3,494.6 403.2,494.5 405.1,494.4 407.1,494.4 409.0,494.3 410.9,494.3 412.8,494.2 414.7,494.1 416.7,494.1 418.6,494.0 420.5,494.0 422.4,493.9 424.3,493.8 426.3,493.8 428.2,493.7 430.1,493.7 432.0,493.6 433.9,493.6 435.9,493.5 437.8,493.5 439.7,493.5 441.6,493.4 443.5,493.4 445.5,493.3 447.4,493.3 449.3,493.3 451.2,493.2 453.1,493.2 455.1,493.2 457.0,493.1 458.9,493.1 460.8,493.1 462.7,493.0 464.7,493.0 466.6,493.0 468.5,492.9 470.4,492.9 472.3,492.9 474.3,492.8 476.2,492.8 478.1,492.8 480.0,492.8 481.9,492.7 483.9,492.7 485.8,492.7 487.7,492.6 489.6,492.6 491.5,492.6 493.5,492.6 495.4,492.5 497.3,492.5 499.2,492.5 501.1,492.5 503.1,492.4 505.0,492.4 506.9,492.4 508.8,492.4 510.7,492.3 512.7,492.3 514.6,492.3 516.5,492.3" fill="none" stroke="#00ff00" stroke-width="1.45" stroke-linejoin="round"/>
<path d="M32.2 491.2H40.8" stroke="#00ff00" stroke-width="1.4" fill="none"/>
<path d="M80.2 493.3H88.8" stroke="#00ff00" stroke-width="1.4" fill="none"/>
<path d="M128.2 497.7H136.8" stroke="#00ff00" stroke-width="1.4" fill="none"/>
<path d="M176.2 511.3H184.8" stroke="#00ff00" stroke-width="1.4" fill="none"/>
<path d="M224.2 567.0H232.8" stroke="#00ff00" stroke-width="1.4" fill="none"/>
<path d="M272.2 544.6H280.8" stroke="#00ff00" stroke-width="1.4" fill="none"/>
<path d="M320.2 505.5H328.8" stroke="#00ff00" stroke-width="1.4" fill="none"/>
<path d="M368.2 496.3H376.8" stroke="#00ff00" stroke-width="1.4" fill="none"/>
<path d="M416.2 494.0H424.8" stroke="#00ff00" stroke-width="1.4" fill="none"/>
<path d="M464.2 492.9H472.8" stroke="#00ff00" stroke-width="1.4" fill="none"/>
<path d="M512.2 492.3H520.8" stroke="#00ff00" stroke-width="1.4" fill="none"/>
<polyline points="36.5,491.6 38.4,491.6 40.3,491.7 42.3,491.8 44.2,491.8 46.1,491.9 48.0,491.9 49.9,492.0 51.9,492.1 53.8,492.1 55.7,492.2 57.6,492.3 59.5,492.3 61.5,492.4 63.4,492.5 65.3,492.6 67.2,492.7 69.1,492.7 71.1,492.8 73.0,492.9 74.9,493.0 76.8,493.1 78.7,493.2 80.7,493.3 82.6,493.4 84.5,493.5 86.4,493.6 88.3,493.7 90.3,493.8 92.2,493.9 94.1,494.0 96.0,494.1 97.9,494.3 99.9,494.4 101.8,494.5 103.7,494.6 105.6,494.8 107.5,494.9 109.5,495.1 111.4,495.2 113.3,495.4 115.2,495.5 117.1,495.7 119.1,495.9 121.0,496.1 122.9,496.3 124.8,496.5 126.7,496.7 128.7,496.9 130.6,497.1 132.5,497.4 134.4,497.6 136.3,497.9 138.3,498.1 140.2,498.4 142.1,498.7 144.0,499.0 145.9,499.3 147.9,499.7 149.8,500.0 151.7,500.4 153.6,500.7 155.5,501.1 157.5,501.5 159.4,502.0 161.3,502.4 163.2,502.9 165.1,503.4 167.1,503.9 169.0,504.4 170.9,505.0 172.8,505.6 174.7,506.2 176.7,506.8 178.6,507.5 180.5,508.2 182.4,509.0 184.3,509.8 186.3,510.7 188.2,511.6 190.1,512.6 192.0,513.6 193.9,514.7 195.9,515.9 197.8,517.1 199.7,518.4 201.6,519.8 203.5,521.3 205.5,522.9 207.4,524.6 209.3,526.3 211.2,528.2 213.1,530.2 215.1,532.2 217.0,534.4 218.9,536.7 220.8,539.1 222.7,541.7 224.7,544.3 226.6,547.1 228.5,550.0 230.4,552.8 232.3,555.8 234.3,558.8 236.2,562.0 238.1,565.2 240.0,568.6 241.5,571.1 241.7,571.4 241.8,571.8 241.9,571.9 242.0,572.1 242.2,572.4 242.4,572.8 242.6,573.1 242.8,573.4 243.0,573.8 243.2,574.1 243.4,574.4 243.6,574.8 243.8,575.1 243.9,575.2 244.0,575.4 244.1,575.7 244.3,576.1 244.5,576.4 244.7,576.7 244.9,577.0 245.1,577.3 245.3,577.7 245.5,578.0 245.7,578.3 245.8,578.4 245.9,578.6 246.1,578.9 246.3,579.2 246.5,579.5 246.6,579.8 246.8,580.1 247.0,580.4 247.2,580.7 247.4,581.0 247.6,581.3 247.7,581.4 247.8,581.5 248.0,581.8 248.2,582.1 248.4,582.4 248.6,582.6 248.8,582.9 248.9,583.1 249.1,583.4 249.3,583.6 249.5,583.9 249.6,584.0 249.7,584.1 249.9,584.3 250.1,584.6 250.3,584.8 250.5,585.0 250.7,585.2 250.9,585.4 251.1,585.6 251.3,585.8 251.4,586.0 251.5,586.1 251.6,586.1 251.8,586.3 252.0,586.5 252.2,586.6 252.4,586.8 252.6,586.9 252.8,587.0 253.0,587.2 253.2,587.3 253.4,587.4 253.5,587.5 253.6,587.5 253.7,587.6 253.9,587.7 254.1,587.8 254.3,587.8 254.5,587.9 254.7,588.0 254.9,588.0 255.1,588.0 255.3,588.1 255.4,588.1 255.5,588.1 255.7,588.1 255.9,588.1 256.1,588.1 256.2,588.1 256.4,588.1 256.6,588.0 256.8,588.0 257.0,587.9 257.2,587.9 257.3,587.8 257.4,587.8 257.6,587.7 257.8,587.6 258.0,587.5 258.2,587.4 258.4,587.3 258.5,587.1 258.7,587.0 258.9,586.9 259.1,586.7 259.2,586.6 259.3,586.5 259.5,586.4 259.7,586.2 259.9,586.0 260.1,585.8 260.3,585.6 260.5,585.4 260.7,585.2 260.9,584.9 261.0,584.7 261.1,584.6 261.2,584.5 261.4,584.2 261.6,584.0 261.8,583.7 262.0,583.4 262.2,583.2 262.4,582.9 262.6,582.6 262.8,582.3 263.0,582.0 263.1,581.9 263.2,581.7 263.3,581.4 263.5,581.1 263.7,580.8 263.9,580.5 264.1,580.2 264.3,579.9 264.5,579.6 264.7,579.2 264.9,578.9 265.0,578.7 265.1,578.6 265.3,578.2 265.5,577.9 265.7,577.5 265.8,577.2 266.0,576.9 266.2,576.5 266.4,576.2 266.6,575.8 266.8,575.4 266.9,575.3 267.0,575.1 267.2,574.7 267.4,574.4 267.6,574.0 267.8,573.7 268.0,573.3 268.1,572.9 268.3,572.6 268.5,572.2 268.7,571.8 268.8,571.7 268.9,571.5 269.1,571.1 269.3,570.8 269.5,570.4 269.7,570.0 269.9,569.7 270.1,569.3 270.7,568.0 272.7,564.4 274.6,560.9 276.5,557.5 278.4,554.2 280.3,551.0 282.3,548.0 284.2,545.1 286.1,542.3 288.0,539.8 289.9,537.3 291.9,535.0 293.8,532.8 295.7,530.8 297.6,528.8 299.5,527.0 301.5,525.3 303.4,523.6 305.3,522.1 307.2,520.6 309.1,519.3 311.1,517.9 313.0,516.7 314.9,515.6 316.8,514.5 318.7,513.4 320.7,512.4 322.6,511.5 324.5,510.6 326.4,509.8 328.3,509.0 330.3,508.2 332.2,507.5 334.1,506.8 336.0,506.2 337.9,505.6 339.9,505.0 341.8,504.5 343.7,503.9 345.6,503.4 347.5,502.9 349.5,502.5 351.4,502.1 353.3,501.6 355.2,501.3 357.1,500.9 359.1,500.5 361.0,500.2 362.9,499.8 364.8,499.5 366.7,499.2 368.7,498.9 370.6,498.6 372.5,498.4 374.4,498.1 376.3,497.9 378.3,497.7 380.2,497.5 382.1,497.3 384.0,497.1 385.9,496.9 387.9,496.8 389.8,496.6 391.7,496.5 393.6,496.3 395.5,496.2 397.5,496.1 399.4,496.0 401.3,495.9 403.2,495.8 405.1,495.7 407.1,495.6 409.0,495.5 410.9,495.4 412.8,495.3 414.7,495.2 416.7,495.1 418.6,495.1 420.5,495.0 422.4,494.9 424.3,494.8 426.3,494.7 428.2,494.7 430.1,494.6 432.0,494.5 433.9,494.5 435.9,494.4 437.8,494.4 439.7,494.3 441.6,494.2 443.5,494.2 445.5,494.1 447.4,494.1 449.3,494.0 451.2,494.0 453.1,493.9 455.1,493.9 457.0,493.9 458.9,493.8 460.8,493.8 462.7,493.7 464.7,493.7 466.6,493.7 468.5,493.6 470.4,493.6 472.3,493.5 474.3,493.5 476.2,493.5 478.1,493.4 480.0,493.4 481.9,493.4 483.9,493.3 485.8,493.3 487.7,493.3 489.6,493.3 491.5,493.2 493.5,493.2 495.4,493.2 497.3,493.2 499.2,493.1 501.1,493.1 503.1,493.1 505.0,493.1 506.9,493.0 508.8,493.0 510.7,493.0 512.7,493.0 514.6,493.0 516.5,492.9" fill="none" stroke="#ff00ff" stroke-width="1.45" stroke-linejoin="round"/>
<rect x="32.8" y="487.9" width="7.4" height="7.4" fill="none" stroke="#ff00ff" stroke-width="1.75"/>
<rect x="80.8" y="489.8" width="7.4" height="7.4" fill="none" stroke="#ff00ff" stroke-width="1.75"/>
<rect x="128.8" y="493.7" width="7.4" height="7.4" fill="none" stroke="#ff00ff" stroke-width="1.75"/>
<rect x="176.8" y="504.5" width="7.4" height="7.4" fill="none" stroke="#ff00ff" stroke-width="1.75"/>
<rect x="224.8" y="546.3" width="7.4" height="7.4" fill="none" stroke="#ff00ff" stroke-width="1.75"/>
<rect x="272.8" y="553.8" width="7.4" height="7.4" fill="none" stroke="#ff00ff" stroke-width="1.75"/>
<rect x="320.8" y="506.9" width="7.4" height="7.4" fill="none" stroke="#ff00ff" stroke-width="1.75"/>
<rect x="368.8" y="494.7" width="7.4" height="7.4" fill="none" stroke="#ff00ff" stroke-width="1.75"/>
<rect x="416.8" y="491.3" width="7.4" height="7.4" fill="none" stroke="#ff00ff" stroke-width="1.75"/>
<rect x="464.8" y="489.9" width="7.4" height="7.4" fill="none" stroke="#ff00ff" stroke-width="1.75"/>
<rect x="512.8" y="489.2" width="7.4" height="7.4" fill="none" stroke="#ff00ff" stroke-width="1.75"/>
<polyline points="36.5,493.3 38.4,493.3 40.3,493.4 42.3,493.5 44.2,493.5 46.1,493.6 48.0,493.6 49.9,493.7 51.9,493.8 53.8,493.8 55.7,493.9 57.6,493.9 59.5,494.0 61.5,494.1 63.4,494.1 65.3,494.2 67.2,494.3 69.1,494.4 71.1,494.4 73.0,494.5 74.9,494.6 76.8,494.7 78.7,494.7 80.7,494.8 82.6,494.9 84.5,495.0 86.4,495.1 88.3,495.1 90.3,495.2 92.2,495.3 94.1,495.4 96.0,495.4 97.9,495.5 99.9,495.6 101.8,495.7 103.7,495.7 105.6,495.8 107.5,495.9 109.5,496.0 111.4,496.1 113.3,496.2 115.2,496.3 117.1,496.4 119.1,496.5 121.0,496.6 122.9,496.8 124.8,496.9 126.7,497.1 128.7,497.3 130.6,497.5 132.5,497.7 134.4,497.9 136.3,498.2 138.3,498.4 140.2,498.7 142.1,498.9 144.0,499.2 145.9,499.5 147.9,499.8 149.8,500.1 151.7,500.4 153.6,500.7 155.5,501.1 157.5,501.4 159.4,501.8 161.3,502.2 163.2,502.6 165.1,503.0 167.1,503.5 169.0,503.9 170.9,504.4 172.8,504.9 174.7,505.5 176.7,506.0 178.6,506.6 180.5,507.2 182.4,507.8 184.3,508.5 186.3,509.2 188.2,510.0 190.1,510.7 192.0,511.6 193.9,512.4 195.9,513.3 197.8,514.3 199.7,515.3 201.6,516.3 203.5,517.4 205.5,518.6 207.4,519.8 209.3,521.1 211.2,522.4 213.1,523.8 215.1,525.3 217.0,526.9 218.9,528.5 220.8,530.2 222.7,532.0 224.7,533.8 226.6,535.8 228.5,537.8 230.4,539.8 232.3,541.9 234.3,544.1 236.2,546.4 238.1,548.7 240.0,551.2 241.9,553.7 243.9,556.2 245.8,558.9 247.7,561.5 249.6,564.1 250.9,565.9 251.1,566.1 251.3,566.4 251.5,566.7 251.5,566.7 251.7,566.9 251.9,567.2 252.1,567.4 252.3,567.7 252.5,567.9 252.6,568.2 252.8,568.4 253.0,568.6 253.2,568.9 253.4,569.1 253.5,569.2 253.6,569.4 253.8,569.6 254.0,569.8 254.2,570.1 254.4,570.3 254.6,570.5 254.8,570.8 254.9,571.0 255.1,571.2 255.3,571.4 255.4,571.5 255.5,571.7 255.7,571.9 255.9,572.1 256.1,572.3 256.3,572.5 256.5,572.7 256.7,572.9 256.9,573.1 257.1,573.3 257.3,573.5 257.3,573.6 257.4,573.7 257.6,573.9 257.8,574.1 258.0,574.3 258.2,574.4 258.4,574.6 258.6,574.8 258.8,574.9 259.0,575.1 259.2,575.3 259.2,575.3 259.4,575.4 259.6,575.6 259.7,575.7 259.9,575.9 260.1,576.0 260.3,576.1 260.5,576.3 260.7,576.4 260.9,576.5 261.1,576.6 261.1,576.7 261.3,576.7 261.5,576.8 261.7,576.9 261.9,577.0 262.1,577.1 262.2,577.2 262.4,577.3 262.6,577.4 262.8,577.5 263.0,577.5 263.1,577.5 263.2,577.6 263.4,577.6 263.6,577.7 263.8,577.7 264.0,577.8 264.2,577.8 264.4,577.8 264.5,577.9 264.7,577.9 264.9,577.9 265.0,577.9 265.1,577.9 265.3,577.9 265.5,577.9 265.7,577.9 265.9,577.9 266.1,577.9 266.3,577.8 266.5,577.8 266.7,577.8 266.9,577.7 266.9,577.7 267.0,577.7 267.2,577.6 267.4,577.6 267.6,577.5 267.8,577.5 268.0,577.4 268.2,577.3 268.4,577.2 268.6,577.1 268.8,577.1 268.8,577.0 269.0,577.0 269.2,576.9 269.3,576.8 269.5,576.6 269.7,576.5 269.9,576.4 270.1,576.3 270.3,576.2 270.5,576.0 270.7,575.9 270.7,575.9 270.9,575.7 271.1,575.6 271.3,575.4 271.5,575.3 271.7,575.1 271.8,575.0 272.0,574.8 272.2,574.6 272.4,574.5 272.6,574.3 272.7,574.3 272.8,574.1 273.0,573.9 273.2,573.7 273.4,573.6 273.6,573.4 273.8,573.2 274.0,573.0 274.1,572.8 274.3,572.6 274.5,572.4 274.6,572.3 274.7,572.1 274.9,571.9 275.1,571.7 275.3,571.5 275.5,571.3 275.7,571.1 275.9,570.8 276.1,570.6 276.3,570.4 276.5,570.1 276.5,570.1 276.6,569.9 276.8,569.7 277.0,569.4 277.2,569.2 277.4,568.9 277.6,568.7 277.8,568.5 278.0,568.2 278.2,568.0 278.4,567.7 278.4,567.6 278.6,567.5 278.8,567.2 278.9,566.9 279.1,566.7 279.3,566.4 279.5,566.2 280.3,565.1 282.3,562.4 284.2,559.7 286.1,557.0 288.0,554.3 289.9,551.7 291.9,549.2 293.8,546.7 295.7,544.3 297.6,542.1 299.5,539.9 301.5,537.8 303.4,535.8 305.3,533.9 307.2,532.0 309.1,530.3 311.1,528.7 313.0,527.1 314.9,525.6 316.8,524.2 318.7,522.8 320.7,521.5 322.6,520.3 324.5,519.1 326.4,518.0 328.3,516.9 330.3,515.9 332.2,515.0 334.1,514.1 336.0,513.2 337.9,512.4 339.9,511.6 341.8,510.8 343.7,510.1 345.6,509.4 347.5,508.8 349.5,508.1 351.4,507.5 353.3,507.0 355.2,506.4 357.1,505.9 359.1,505.4 361.0,504.9 362.9,504.5 364.8,504.0 366.7,503.6 368.7,503.2 370.6,502.8 372.5,502.5 374.4,502.1 376.3,501.8 378.3,501.5 380.2,501.3 382.1,501.0 384.0,500.8 385.9,500.6 387.9,500.5 389.8,500.3 391.7,500.1 393.6,500.0 395.5,499.9 397.5,499.8 399.4,499.6 401.3,499.5 403.2,499.4 405.1,499.3 407.1,499.1 409.0,499.0 410.9,498.9 412.8,498.7 414.7,498.6 416.7,498.4 418.6,498.2 420.5,498.0 422.4,497.8 424.3,497.6 426.3,497.5 428.2,497.3 430.1,497.1 432.0,496.9 433.9,496.7 435.9,496.6 437.8,496.4 439.7,496.2 441.6,496.1 443.5,495.9 445.5,495.8 447.4,495.6 449.3,495.5 451.2,495.4 453.1,495.2 455.1,495.1 457.0,495.0 458.9,494.9 460.8,494.7 462.7,494.6 464.7,494.5 466.6,494.4 468.5,494.3 470.4,494.2 472.3,494.1 474.3,494.0 476.2,494.0 478.1,493.9 480.0,493.8 481.9,493.8 483.9,493.7 485.8,493.7 487.7,493.7 489.6,493.6 491.5,493.6 493.5,493.6 495.4,493.6 497.3,493.6 499.2,493.6 501.1,493.6 503.1,493.6 505.0,493.6 506.9,493.6 508.8,493.6 510.7,493.6 512.7,493.6 514.6,493.6 516.5,493.6" fill="none" stroke="#ff0000" stroke-width="1.45" stroke-linejoin="round"/>
<path d="M32.7 489.1H40.3L32.7 497.5H40.3Z" stroke="#ff0000" stroke-width="1.4" fill="none"/>
<path d="M80.7 490.8H88.3L80.7 499.2H88.3Z" stroke="#ff0000" stroke-width="1.4" fill="none"/>
<path d="M128.7 493.5H136.3L128.7 501.9H136.3Z" stroke="#ff0000" stroke-width="1.4" fill="none"/>
<path d="M176.7 503.0H184.3L176.7 511.4H184.3Z" stroke="#ff0000" stroke-width="1.4" fill="none"/>
<path d="M224.7 533.6H232.3L224.7 542.0H232.3Z" stroke="#ff0000" stroke-width="1.4" fill="none"/>
<path d="M272.7 565.9H280.3L272.7 574.3H280.3Z" stroke="#ff0000" stroke-width="1.4" fill="none"/>
<path d="M320.7 514.9H328.3L320.7 523.3H328.3Z" stroke="#ff0000" stroke-width="1.4" fill="none"/>
<path d="M368.7 498.3H376.3L368.7 506.7H376.3Z" stroke="#ff0000" stroke-width="1.4" fill="none"/>
<path d="M416.7 493.8H424.3L416.7 502.2H424.3Z" stroke="#ff0000" stroke-width="1.4" fill="none"/>
<path d="M464.7 490.1H472.3L464.7 498.5H472.3Z" stroke="#ff0000" stroke-width="1.4" fill="none"/>
<path d="M512.7 489.4H520.3L512.7 497.8H520.3Z" stroke="#ff0000" stroke-width="1.4" fill="none"/>
<polyline points="36.5,494.0 38.4,494.0 40.3,494.1 42.3,494.1 44.2,494.2 46.1,494.2 48.0,494.3 49.9,494.4 51.9,494.4 53.8,494.5 55.7,494.5 57.6,494.6 59.5,494.6 61.5,494.7 63.4,494.8 65.3,494.8 67.2,494.9 69.1,495.0 71.1,495.0 73.0,495.1 74.9,495.2 76.8,495.2 78.7,495.3 80.7,495.4 82.6,495.4 84.5,495.5 86.4,495.6 88.3,495.7 90.3,495.7 92.2,495.8 94.1,495.9 96.0,495.9 97.9,496.0 99.9,496.0 101.8,496.1 103.7,496.1 105.6,496.2 107.5,496.3 109.5,496.3 111.4,496.4 113.3,496.5 115.2,496.6 117.1,496.7 119.1,496.8 121.0,496.9 122.9,497.0 124.8,497.2 126.7,497.3 128.7,497.5 130.6,497.6 132.5,497.8 134.4,498.0 136.3,498.3 138.3,498.5 140.2,498.7 142.1,499.0 144.0,499.2 145.9,499.5 147.9,499.7 149.8,500.0 151.7,500.3 153.6,500.6 155.5,500.9 157.5,501.3 159.4,501.6 161.3,502.0 163.2,502.3 165.1,502.7 167.1,503.1 169.0,503.5 170.9,503.9 172.8,504.3 174.7,504.8 176.7,505.2 178.6,505.7 180.5,506.2 182.4,506.7 184.3,507.2 186.3,507.7 188.2,508.3 190.1,508.9 192.0,509.4 193.9,510.0 195.9,510.7 197.8,511.3 199.7,512.0 201.6,512.7 203.5,513.4 205.5,514.2 207.4,514.9 209.3,515.8 211.2,516.6 213.1,517.5 215.1,518.4 217.0,519.4 218.9,520.4 220.8,521.5 222.7,522.6 224.7,523.7 226.6,525.0 228.5,526.2 230.4,527.8 232.3,529.3 234.3,531.0 236.2,532.7 238.1,534.5 240.0,536.4 241.9,538.3 243.9,540.3 245.8,542.4 247.7,544.5 249.6,546.7 251.5,549.0 253.5,551.3 255.4,553.6 257.3,555.8 259.2,558.1 259.7,558.6 259.9,558.8 260.1,559.0 260.3,559.2 260.5,559.5 260.7,559.7 260.9,559.9 261.0,560.1 261.1,560.2 261.2,560.3 261.4,560.5 261.6,560.7 261.8,560.9 262.0,561.1 262.2,561.3 262.4,561.5 262.6,561.7 262.8,561.9 263.0,562.1 263.1,562.2 263.2,562.3 263.3,562.5 263.5,562.7 263.7,562.8 263.9,563.0 264.1,563.2 264.3,563.4 264.5,563.6 264.7,563.7 264.9,563.9 265.0,564.0 265.1,564.1 265.3,564.2 265.5,564.4 265.7,564.6 265.8,564.7 266.0,564.9 266.2,565.0 266.4,565.2 266.6,565.3 266.8,565.5 266.9,565.6 267.0,565.6 267.2,565.8 267.4,565.9 267.6,566.0 267.8,566.2 268.0,566.3 268.1,566.4 268.3,566.5 268.5,566.7 268.7,566.8 268.8,566.8 268.9,566.9 269.1,567.0 269.3,567.1 269.5,567.2 269.7,567.3 269.9,567.4 270.1,567.5 270.3,567.6 270.5,567.6 270.6,567.7 270.7,567.7 270.8,567.8 271.0,567.9 271.2,567.9 271.4,568.0 271.6,568.0 271.8,568.1 272.0,568.1 272.2,568.2 272.4,568.2 272.6,568.3 272.7,568.3 272.8,568.3 272.9,568.3 273.1,568.3 273.3,568.4 273.5,568.4 273.7,568.4 273.9,568.4 274.1,568.4 274.3,568.4 274.5,568.4 274.6,568.4 274.7,568.4 274.9,568.4 275.1,568.3 275.3,568.3 275.4,568.3 275.6,568.3 275.8,568.3 276.0,568.2 276.2,568.2 276.4,568.2 276.5,568.1 276.6,568.1 276.8,568.1 277.0,568.0 277.2,568.0 277.4,567.9 277.6,567.9 277.7,567.8 277.9,567.7 278.1,567.7 278.3,567.6 278.4,567.6 278.5,567.5 278.7,567.4 278.9,567.4 279.1,567.3 279.3,567.2 279.5,567.1 279.7,567.0 279.9,566.9 280.1,566.8 280.2,566.7 280.3,566.7 280.4,566.6 280.6,566.5 280.8,566.4 281.0,566.3 281.2,566.2 281.4,566.1 281.6,566.0 281.8,565.8 282.0,565.7 282.2,565.6 282.3,565.5 282.4,565.5 282.5,565.3 282.7,565.2 282.9,565.1 283.1,564.9 283.3,564.8 283.5,564.7 283.7,564.5 283.9,564.4 284.1,564.2 284.2,564.2 284.3,564.1 284.5,563.9 284.7,563.8 284.9,563.6 285.0,563.5 285.2,563.3 285.4,563.1 285.6,563.0 285.8,562.8 286.0,562.7 286.1,562.6 286.2,562.5 286.4,562.3 286.6,562.2 286.8,562.0 287.0,561.8 287.2,561.6 287.3,561.5 287.5,561.3 287.7,561.1 287.9,560.9 288.0,560.8 288.1,560.7 288.3,560.6 289.9,559.0 291.9,557.0 293.8,555.0 295.7,553.0 297.6,551.0 299.5,549.0 301.5,547.0 303.4,545.0 305.3,543.1 307.2,541.2 309.1,539.4 311.1,537.7 313.0,535.9 314.9,534.3 316.8,532.7 318.7,531.2 320.7,529.7 322.6,528.3 324.5,526.9 326.4,525.6 328.3,524.4 330.3,523.1 332.2,522.0 334.1,520.9 336.0,519.8 337.9,518.8 339.9,517.8 341.8,516.8 343.7,515.9 345.6,515.1 347.5,514.2 349.5,513.4 351.4,512.6 353.3,511.9 355.2,511.2 357.1,510.5 359.1,509.8 361.0,509.2 362.9,508.6 364.8,508.0 366.7,507.4 368.7,506.9 370.6,506.4 372.5,505.9 374.4,505.4 376.3,505.0 378.3,504.6 380.2,504.3 382.1,504.0 384.0,503.7 385.9,503.5 387.9,503.3 389.8,503.1 391.7,502.9 393.6,502.7 395.5,502.6 397.5,502.5 399.4,502.3 401.3,502.2 403.2,502.1 405.1,501.9 407.1,501.8 409.0,501.6 410.9,501.5 412.8,501.3 414.7,501.1 416.7,500.9 418.6,500.7 420.5,500.4 422.4,500.2 424.3,499.9 426.3,499.7 428.2,499.4 430.1,499.2 432.0,499.0 433.9,498.8 435.9,498.5 437.8,498.3 439.7,498.1 441.6,497.9 443.5,497.7 445.5,497.6 447.4,497.4 449.3,497.2 451.2,497.0 453.1,496.9 455.1,496.7 457.0,496.5 458.9,496.4 460.8,496.2 462.7,496.1 464.7,495.9 466.6,495.8 468.5,495.7 470.4,495.5 472.3,495.4 474.3,495.3 476.2,495.2 478.1,495.1 480.0,495.0 481.9,494.9 483.9,494.9 485.8,494.8 487.7,494.7 489.6,494.7 491.5,494.6 493.5,494.6 495.4,494.5 497.3,494.5 499.2,494.5 501.1,494.4 503.1,494.4 505.0,494.4 506.9,494.4 508.8,494.4 510.7,494.3 512.7,494.3 514.6,494.3 516.5,494.3" fill="none" stroke="#800000" stroke-width="1.45" stroke-linejoin="round"/>
<path d="M36.5 489.8L40.5 494.0L36.5 498.2L32.5 494.0Z" stroke="#800000" stroke-width="1.4" fill="none"/>
<path d="M84.5 491.3L88.5 495.5L84.5 499.7L80.5 495.5Z" stroke="#800000" stroke-width="1.4" fill="none"/>
<path d="M132.5 493.6L136.5 497.8L132.5 502.0L128.5 497.8Z" stroke="#800000" stroke-width="1.4" fill="none"/>
<path d="M180.5 502.0L184.5 506.2L180.5 510.4L176.5 506.2Z" stroke="#800000" stroke-width="1.4" fill="none"/>
<path d="M228.5 522.0L232.5 526.2L228.5 530.4L224.5 526.2Z" stroke="#800000" stroke-width="1.4" fill="none"/>
<path d="M276.5 563.9L280.5 568.1L276.5 572.3L272.5 568.1Z" stroke="#800000" stroke-width="1.4" fill="none"/>
<path d="M324.5 522.7L328.5 526.9L324.5 531.1L320.5 526.9Z" stroke="#800000" stroke-width="1.4" fill="none"/>
<path d="M372.5 501.7L376.5 505.9L372.5 510.1L368.5 505.9Z" stroke="#800000" stroke-width="1.4" fill="none"/>
<path d="M420.5 496.2L424.5 500.4L420.5 504.6L416.5 500.4Z" stroke="#800000" stroke-width="1.4" fill="none"/>
<path d="M468.5 491.5L472.5 495.7L468.5 499.9L464.5 495.7Z" stroke="#800000" stroke-width="1.4" fill="none"/>
<path d="M516.5 490.1L520.5 494.3L516.5 498.5L512.5 494.3Z" stroke="#800000" stroke-width="1.4" fill="none"/>
<polyline points="36.5,495.1 38.4,495.2 40.3,495.2 42.3,495.3 44.2,495.3 46.1,495.4 48.0,495.4 49.9,495.5 51.9,495.5 53.8,495.6 55.7,495.6 57.6,495.7 59.5,495.7 61.5,495.8 63.4,495.8 65.3,495.9 67.2,495.9 69.1,496.0 71.1,496.1 73.0,496.1 74.9,496.2 76.8,496.2 78.7,496.3 80.7,496.3 82.6,496.4 84.5,496.5 86.4,496.5 88.3,496.6 90.3,496.7 92.2,496.7 94.1,496.8 96.0,496.8 97.9,496.9 99.9,496.9 101.8,497.0 103.7,497.1 105.6,497.1 107.5,497.2 109.5,497.3 111.4,497.3 113.3,497.4 115.2,497.5 117.1,497.6 119.1,497.6 121.0,497.7 122.9,497.8 124.8,497.9 126.7,498.0 128.7,498.1 130.6,498.3 132.5,498.4 134.4,498.5 136.3,498.6 138.3,498.8 140.2,498.9 142.1,499.1 144.0,499.2 145.9,499.4 147.9,499.6 149.8,499.7 151.7,499.9 153.6,500.1 155.5,500.3 157.5,500.5 159.4,500.7 161.3,501.0 163.2,501.2 165.1,501.4 167.1,501.7 169.0,501.9 170.9,502.2 172.8,502.5 174.7,502.8 176.7,503.1 178.6,503.5 180.5,503.8 182.4,504.2 184.3,504.6 186.3,504.9 188.2,505.4 190.1,505.8 192.0,506.2 193.9,506.7 195.9,507.2 197.8,507.7 199.7,508.2 201.6,508.7 203.5,509.3 205.5,509.9 207.4,510.5 209.3,511.1 211.2,511.8 213.1,512.5 215.1,513.3 217.0,514.0 218.9,514.8 220.8,515.7 222.7,516.6 224.7,517.5 226.6,518.4 228.5,519.4 230.4,520.5 232.3,521.7 234.3,522.9 236.2,524.1 238.1,525.4 240.0,526.7 241.9,528.0 243.9,529.5 245.8,530.9 247.7,532.4 249.6,534.0 251.5,535.6 253.5,537.3 255.4,538.9 257.3,540.6 259.2,542.4 261.1,544.1 263.1,545.8 265.0,547.6 266.9,549.3 268.8,550.9 270.7,552.4 270.9,552.6 271.1,552.7 271.3,552.9 271.5,553.0 271.7,553.2 271.9,553.3 272.1,553.5 272.3,553.6 272.5,553.7 272.7,553.9 272.9,554.0 273.0,554.2 273.2,554.3 273.4,554.4 273.6,554.6 273.8,554.7 274.0,554.8 274.2,555.0 274.4,555.1 274.6,555.2 274.8,555.3 275.0,555.4 275.2,555.6 275.3,555.7 275.5,555.8 275.7,555.9 275.9,556.0 276.1,556.1 276.3,556.2 276.5,556.4 276.7,556.5 276.9,556.6 277.1,556.7 277.3,556.8 277.5,556.9 277.7,557.0 277.8,557.1 278.0,557.1 278.2,557.2 278.4,557.3 278.6,557.4 278.8,557.5 279.0,557.6 279.2,557.6 279.4,557.7 279.6,557.8 279.8,557.9 280.0,557.9 280.1,558.0 280.3,558.1 280.5,558.1 280.7,558.2 280.9,558.2 281.1,558.3 281.3,558.4 281.5,558.4 281.7,558.5 281.9,558.5 282.1,558.5 282.3,558.6 282.5,558.6 282.6,558.7 282.8,558.7 283.0,558.7 283.2,558.7 283.4,558.8 283.6,558.8 283.8,558.8 284.0,558.8 284.2,558.8 284.4,558.9 284.6,558.9 284.8,558.9 284.9,558.9 285.1,558.9 285.3,558.9 285.5,558.9 285.7,558.9 285.9,558.9 286.1,558.9 286.3,558.8 286.5,558.8 286.7,558.8 286.9,558.8 287.1,558.8 287.3,558.8 287.4,558.8 287.6,558.7 287.8,558.7 288.0,558.7 288.2,558.7 288.4,558.7 288.6,558.6 288.8,558.6 289.0,558.6 289.2,558.5 289.4,558.5 289.6,558.5 289.7,558.4 289.9,558.4 290.1,558.4 290.3,558.3 290.5,558.3 290.7,558.2 290.9,558.2 291.1,558.1 291.3,558.1 291.5,558.0 291.7,558.0 291.9,557.9 292.1,557.9 292.2,557.8 292.4,557.8 292.6,557.7 292.8,557.7 293.0,557.6 293.2,557.5 293.4,557.5 293.6,557.4 293.8,557.4 294.0,557.3 294.2,557.2 294.4,557.2 294.5,557.1 294.7,557.0 294.9,556.9 295.1,556.9 295.3,556.8 295.5,556.7 295.7,556.6 295.9,556.6 296.1,556.5 296.3,556.4 296.5,556.3 296.7,556.2 296.9,556.1 297.0,556.1 297.2,556.0 297.4,555.9 297.6,555.8 297.8,555.7 298.0,555.6 298.2,555.5 298.4,555.4 298.6,555.3 298.8,555.3 299.0,555.2 299.2,555.1 299.3,555.0 299.5,554.9 301.5,553.8 303.4,552.7 305.3,551.6 307.2,550.3 309.1,549.1 311.1,547.8 313.0,546.4 314.9,545.1 316.8,543.8 318.7,542.4 320.7,541.1 322.6,539.8 324.5,538.5 326.4,537.1 328.3,535.7 330.3,534.4 332.2,533.1 334.1,531.8 336.0,530.5 337.9,529.3 339.9,528.1 341.8,527.0 343.7,525.9 345.6,524.8 347.5,523.7 349.5,522.7 351.4,521.8 353.3,520.8 355.2,519.9 357.1,519.1 359.1,518.2 361.0,517.4 362.9,516.6 364.8,515.8 366.7,515.1 368.7,514.4 370.6,513.7 372.5,513.1 374.4,512.4 376.3,511.8 378.3,511.3 380.2,510.8 382.1,510.3 384.0,509.8 385.9,509.4 387.9,509.0 389.8,508.6 391.7,508.2 393.6,507.9 395.5,507.5 397.5,507.2 399.4,506.9 401.3,506.6 403.2,506.3 405.1,506.0 407.1,505.7 409.0,505.5 410.9,505.2 412.8,504.9 414.7,504.6 416.7,504.4 418.6,504.1 420.5,503.8 422.4,503.5 424.3,503.3 426.3,503.0 428.2,502.7 430.1,502.5 432.0,502.2 433.9,502.0 435.9,501.7 437.8,501.5 439.7,501.2 441.6,501.0 443.5,500.8 445.5,500.6 447.4,500.4 449.3,500.2 451.2,500.0 453.1,499.8 455.1,499.6 457.0,499.4 458.9,499.2 460.8,499.0 462.7,498.9 464.7,498.7 466.6,498.5 468.5,498.4 470.4,498.2 472.3,498.1 474.3,497.9 476.2,497.8 478.1,497.7 480.0,497.5 481.9,497.4 483.9,497.3 485.8,497.2 487.7,497.1 489.6,496.9 491.5,496.8 493.5,496.7 495.4,496.6 497.3,496.5 499.2,496.4 501.1,496.3 503.1,496.2 505.0,496.2 506.9,496.1 508.8,496.0 510.7,495.9 512.7,495.8 514.6,495.7 516.5,495.7" fill="none" stroke="#0000ff" stroke-width="1.45" stroke-linejoin="round"/>
<path d="M36.5 489.8L40.2 497.6H32.8Z" stroke="#0000ff" stroke-width="1.4" fill="none"/>
<path d="M84.5 491.2L88.2 499.0H80.8Z" stroke="#0000ff" stroke-width="1.4" fill="none"/>
<path d="M132.5 493.1L136.2 500.9H128.8Z" stroke="#0000ff" stroke-width="1.4" fill="none"/>
<path d="M180.5 498.5L184.2 506.3H176.8Z" stroke="#0000ff" stroke-width="1.4" fill="none"/>
<path d="M228.5 514.1L232.2 521.9H224.8Z" stroke="#0000ff" stroke-width="1.4" fill="none"/>
<path d="M276.5 551.1L280.2 558.9H272.8Z" stroke="#0000ff" stroke-width="1.4" fill="none"/>
<path d="M324.5 533.2L328.2 541.0H320.8Z" stroke="#0000ff" stroke-width="1.4" fill="none"/>
<path d="M372.5 507.8L376.2 515.6H368.8Z" stroke="#0000ff" stroke-width="1.4" fill="none"/>
<path d="M420.5 498.5L424.2 506.3H416.8Z" stroke="#0000ff" stroke-width="1.4" fill="none"/>
<path d="M468.5 493.1L472.2 500.9H464.8Z" stroke="#0000ff" stroke-width="1.4" fill="none"/>
<path d="M516.5 490.4L520.2 498.2H512.8Z" stroke="#0000ff" stroke-width="1.4" fill="none"/>
</g>
<path d="M233.2 706.9L229.1 700.7H237.3Z" fill="none" stroke="#606060" stroke-width="0.9"/>
<path d="M233.2 701.9L288.3 658.6" stroke="#404040" stroke-width="0.9"/>
<rect x="290.6" y="638.3" width="64.3" height="43.3" fill="#808080"/>
<rect x="288.3" y="636" width="64.3" height="43.3" fill="#fff" stroke="#404040" stroke-width="1"/>
<text x="290.5" y="648.7" class="a" font-size="11.2">m1:</text>
<text x="290.5" y="661.3" class="a" font-size="11.2">9.4097 GHz</text>
<text x="290.5" y="673.9" class="a" font-size="11.2">-31.54 dB</text>
<rect x="412.3" y="454.0" width="127.9" height="310.0" fill="#808080"/>
<rect x="409.6" y="451.3" width="127.9" height="310.0" fill="#fff" stroke="#606060" stroke-width="1"/>
<path d="M412.6 461.6H429.2" stroke="#ff00ff" stroke-width="1.6"/>
<rect x="417.3" y="457.9" width="7.4" height="7.4" fill="none" stroke="#ff00ff" stroke-width="1.75"/>
<text x="431" y="465.0" class="a" font-size="12">DB(|S(2,1)|)</text>
<text x="431" y="478.4" class="a" font-size="11.9">C0 100 micron gap</text>
<path d="M412.6 496.2H429.2" stroke="#00ff00" stroke-width="1.6"/>
<path d="M416.7 496.2H425.3" stroke="#00ff00" stroke-width="1.4" fill="none"/>
<text x="431" y="499.6" class="a" font-size="12">DB(|S(2,1)|)</text>
<text x="431" y="513.0" class="a" font-size="11.9">C0 125 micron gap</text>
<path d="M412.6 530.7H429.2" stroke="#000000" stroke-width="1.6"/>
<path d="M421.0 526.3V535.1" stroke="#000000" stroke-width="1.4" fill="none"/>
<text x="431" y="534.1" class="a" font-size="12">DB(|S(2,1)|)</text>
<text x="431" y="547.5" class="a" font-size="11.9">C0 150 micron gap</text>
<path d="M412.6 565.2H429.2" stroke="#808080" stroke-width="1.6"/>
<path d="M417.6 568.6L424.4 561.9" stroke="#808080" stroke-width="1.2" fill="none"/>
<text x="431" y="568.6" class="a" font-size="12">DB(|S(2,1)|)</text>
<text x="431" y="582.0" class="a" font-size="11.9">C0 200 micron gap</text>
<path d="M412.6 599.8H429.2" stroke="#0000ff" stroke-width="1.6"/>
<path d="M421.0 596.3L424.1 602.0H417.9Z" stroke="#0000ff" stroke-width="1.4" fill="none"/>
<text x="431" y="603.2" class="a" font-size="12">DB(|S(2,1)|)</text>
<text x="431" y="616.6" class="a" font-size="11.9">C0 25 micron gap</text>
<path d="M412.6 634.4H429.2" stroke="#c0c0c0" stroke-width="1.6"/>
<path d="M417.6 631.0L424.4 637.8" stroke="#c0c0c0" stroke-width="1.2" fill="none"/>
<text x="431" y="637.8" class="a" font-size="12">DB(|S(2,1)|)</text>
<text x="431" y="651.1" class="a" font-size="11.9">C0 250 micron gap</text>
<path d="M412.6 668.9H429.2" stroke="#00ffff" stroke-width="1.6"/>
<path d="M421.0 672.3L424.1 667.1H417.9Z" stroke="#00ffff" stroke-width="1.4" fill="none"/>
<text x="431" y="672.3" class="a" font-size="12">DB(|S(2,1)|)</text>
<text x="431" y="685.7" class="a" font-size="11.9">C0 300 micron gap</text>
<path d="M412.6 703.4H429.2" stroke="#800000" stroke-width="1.6"/>
<path d="M421.0 699.2L425.0 703.4L421.0 707.6L417.0 703.4Z" stroke="#800000" stroke-width="1.4" fill="none"/>
<text x="431" y="706.8" class="a" font-size="12">DB(|S(2,1)|)</text>
<text x="431" y="720.2" class="a" font-size="11.9">C0 50 micron gap</text>
<path d="M412.6 738.0H429.2" stroke="#ff0000" stroke-width="1.6"/>
<path d="M417.2 733.8H424.8L417.2 742.2H424.8Z" stroke="#ff0000" stroke-width="1.4" fill="none"/>
<text x="431" y="741.4" class="a" font-size="12">DB(|S(2,1)|)</text>
<text x="431" y="754.8" class="a" font-size="11.9">C0 75 micron gap</text>
</svg>
</body></html>
